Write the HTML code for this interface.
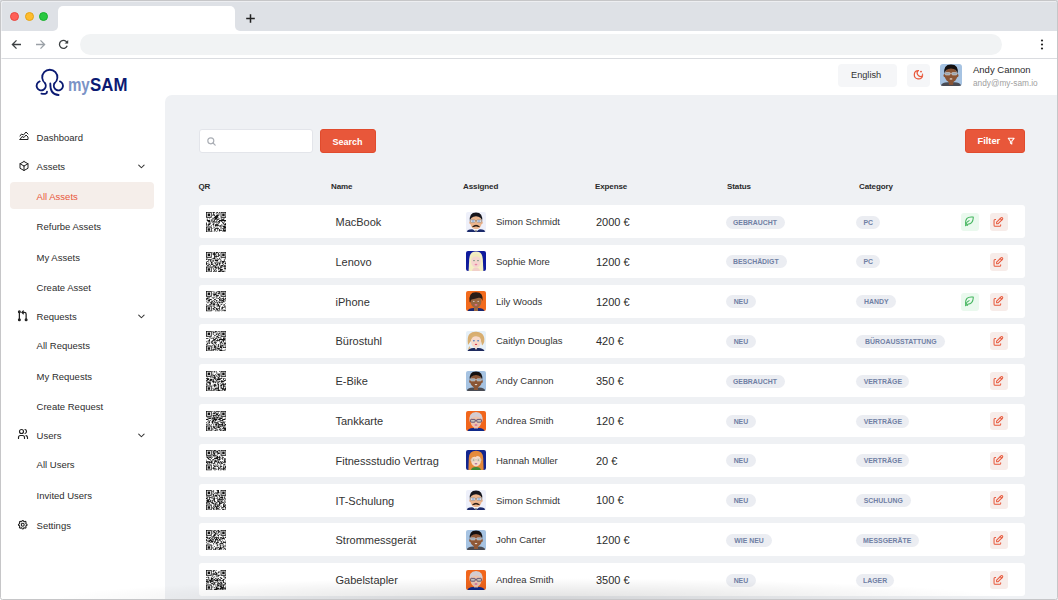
<!DOCTYPE html>
<html><head><meta charset="utf-8">
<style>
*{box-sizing:border-box}
html,body{margin:0;padding:0}
body{width:1058px;height:600px;overflow:hidden;position:relative;background:#fff;font-family:"Liberation Sans",sans-serif;color:#2b2b2b}
.a{position:absolute}
.win{position:absolute;left:0;top:0;width:1058px;height:600px;overflow:hidden;background:#fff}
.frame{position:absolute;left:0;top:0;width:1058px;height:600px;border:1px solid #c6c6c8;border-radius:2.5px;z-index:50;box-shadow:inset 1px 1px 0 rgba(255,255,255,.45)}
.tabbar{position:absolute;left:0;top:0;width:1058px;height:31px;background:#dee1e6}
.tl{position:absolute;top:11.7px;width:9px;height:9px;border-radius:50%}
.tab{position:absolute;left:58px;top:6px;width:177px;height:26px;background:#fff;border-radius:5px 5px 0 0}
.addr{position:absolute;left:80px;top:34px;width:922px;height:21px;background:#f1f3f4;border-radius:11px}
.sep{position:absolute;left:0;top:58px;width:1058px;height:1px;background:#dadce0}
.main{position:absolute;left:165px;top:95px;width:900px;height:520px;background:#eff1f4;border-radius:7px 0 0 0}
.nav{position:absolute;left:36.6px;font-size:9.5px;color:#2d2d2d;line-height:12px;white-space:nowrap}
.ico{position:absolute;left:18px;line-height:0}
.hdr{position:absolute;top:181.5px;font-size:8px;font-weight:bold;color:#2a2a2a;line-height:10px;letter-spacing:-.1px}
.row{position:absolute;left:199px;width:826px;height:33.1px;background:#fff;border-radius:3px}
.qr{position:absolute;left:6.6px;top:6.6px;width:20.3px;height:20.3px}
.nm{position:absolute;left:136.5px;top:10px;font-size:11px;color:#333;line-height:14px;white-space:nowrap}
.av{position:absolute;left:267px;top:6.5px;width:20px;height:20px;border-radius:2px;overflow:hidden}
.as{position:absolute;left:297px;top:11px;font-size:9.5px;color:#333;line-height:12px;white-space:nowrap}
.ex{position:absolute;left:397px;top:9.8px;font-size:11px;color:#2c2c2c;line-height:14px;white-space:nowrap}
.bd{position:absolute;top:10.5px;height:13px;border-radius:7px;background:#ebedf2;color:#7080a4;font-size:7.5px;font-weight:bold;line-height:13.8px;white-space:nowrap;text-align:center}
.bd span{display:inline-block;transform:scaleX(.92)}
.btn{position:absolute;top:7.8px;width:18px;height:18px;border-radius:3px;line-height:0}
</style></head><body>
<div class="win">
  <div class="tabbar"></div>
  <div class="tl" style="left:9.9px;background:#ff5f57;border:.6px solid #e8473f"></div>
  <div class="tl" style="left:24.65px;background:#febc2e;border:.6px solid #e5a317"></div>
  <div class="tl" style="left:39.2px;background:#28c840;border:.6px solid #17b02c"></div>
  <div class="tab"></div>
  <div class="a" style="left:53px;top:26px;width:5px;height:5px;background:#fff"></div>
  <div class="a" style="left:48px;top:21px;width:10px;height:10px;background:#dee1e6;border-radius:0 0 5px 0"></div>
  <div class="a" style="left:235px;top:26px;width:5px;height:5px;background:#fff"></div>
  <div class="a" style="left:235px;top:21px;width:10px;height:10px;background:#dee1e6;border-radius:0 0 0 5px"></div>
  <svg class="a" style="left:245px;top:13px" width="11" height="11" viewBox="0 0 11 11"><path d="M5.5 1.2V9.8M1.2 5.5H9.8" stroke="#222" stroke-width="1.5"/></svg>
  <svg class="a" style="left:11px;top:39px" width="11" height="11" viewBox="0 0 11 11"><path d="M10 5.5H1.5M5.5 1.4L1.4 5.5L5.5 9.6" fill="none" stroke="#3c4043" stroke-width="1.3"/></svg>
  <svg class="a" style="left:35px;top:39px" width="11" height="11" viewBox="0 0 11 11"><path d="M1 5.5H9.5M5.5 1.4L9.6 5.5L5.5 9.6" fill="none" stroke="#9aa0a6" stroke-width="1.3"/></svg>
  <svg class="a" style="left:58px;top:39px" width="11" height="11" viewBox="0 0 11 11"><path d="M9.3 4.3A4 4 0 1 0 9.2 6.8" fill="none" stroke="#3c4043" stroke-width="1.3"/><path d="M6.6 4.6H10.2V1Z" fill="#3c4043"/></svg>
  <div class="addr"></div>
  <svg class="a" style="left:1038.6px;top:38px" width="6" height="13" viewBox="0 0 6 13"><circle cx="3" cy="2.5" r="1.1" fill="#222"/><circle cx="3" cy="6.5" r="1.1" fill="#222"/><circle cx="3" cy="10.5" r="1.1" fill="#222"/></svg>
  <div class="sep"></div>
  <svg class="a" style="left:30px;top:64px" width="40" height="36" viewBox="0 0 40 36"><g fill="none" stroke="#0b1a72" stroke-width="1.8" stroke-linecap="round">
<path d="M15.2 19.4A7.6 7.6 0 1 1 24.4 19.4"/>
<path d="M15.2 19.4A4.6 4.6 0 1 1 9.7 17.4"/>
<path d="M24.4 19.4A4.6 4.6 0 1 0 29.9 17.4"/>
<path d="M20.3 19.4Q20 30.6 28.6 31"/>
<path d="M17 27.6Q17.2 30.8 11.4 29.6"/>
</g></svg>
  <div class="a" style="left:68px;top:74.5px;font-size:18px;color:#7b93c6;line-height:20px;font-weight:bold;letter-spacing:-.2px;transform:scaleX(.84);transform-origin:0 0">my</div>
  <div class="a" style="left:89.5px;top:74.5px;font-size:18px;color:#0b1a72;line-height:20px;font-weight:bold;transform:scaleX(.935);transform-origin:0 0">SAM</div>
  <div class="a" style="left:837.5px;top:63.5px;width:59px;height:23px;background:#f5f6f8;border-radius:4px"></div>
  <div class="a" style="left:851px;top:69.2px;font-size:9.2px;color:#333;line-height:12px">English</div>
  <div class="a" style="left:907px;top:63.5px;width:23px;height:23px;background:#f5f6f8;border-radius:4px"></div>
  <svg class="a" style="left:912px;top:68.3px" width="13" height="13" viewBox="0 0 13 13"><path d="M6.5 2.5A4.2 4.2 0 1 0 10.6 7.6A3.2 3.2 0 0 1 6.5 2.5Z" fill="none" stroke="#e8573a" stroke-width="1.2" stroke-linejoin="round"/><circle cx="9" cy="3.6" r=".95" fill="#e8573a"/><circle cx="10.5" cy="6.2" r=".7" fill="#e8573a"/></svg>
  <svg class="a" style="left:940px;top:64px;border-radius:3px;overflow:hidden" width="22" height="22" viewBox="0 0 20 20"><rect width="20" height="20" fill="#a6c3e2"/><path d="M0.5 20 Q1.5 16.8 7 16.6 L13 16.6 Q18.5 16.8 19.5 20Z" fill="#4a4c54"/><rect x="8" y="14" width="4" height="5" fill="#8a5535"/><ellipse cx="10" cy="10" rx="5.8" ry="6.8" fill="#8a5535"/><ellipse cx="4.2" cy="10.4" rx="1" ry="1.6" fill="#8a5535"/><ellipse cx="15.8" cy="10.4" rx="1" ry="1.6" fill="#8a5535"/><path d="M3.9 9.4 Q2.6 0.4 10 0.4 Q17.4 0.4 16.1 9.4 Q15.6 4.4 10 4.1 Q4.4 4.4 3.9 9.4Z" fill="#141010"/><rect x="4.6" y="7.7" width="4.6" height="2.3" rx=".9" fill="#9aa6b0" stroke="#d9dde3" stroke-width=".5"/><rect x="10.8" y="7.7" width="4.6" height="2.3" rx=".9" fill="#9aa6b0" stroke="#d9dde3" stroke-width=".5"/><path d="M9.2 8.5H10.8" stroke="#d9dde3" stroke-width=".5"/><ellipse cx="10" cy="13.6" rx="1.3" ry=".6" fill="#e8e2dc"/></svg>
  <div class="a" style="left:973px;top:63.7px;font-size:9.5px;color:#2b2b2b;line-height:12px">Andy Cannon</div>
  <div class="a" style="left:973px;top:78px;font-size:8.3px;color:#a0a0a0;line-height:11px">andy@my-sam.io</div>
  <div class="nav" style="top:131.5px;color:#2d2d2d">Dashboard</div><div class="ico" style="left:17.6px;top:129.8px"><svg width="12" height="12" viewBox="0 0 24 24"><g fill="none" stroke="#222" stroke-width="2" stroke-linecap="round" stroke-linejoin="round"><path d="M4 19l4 -6l4 2l4 -5l4 4l0 5l-16 0"/><path d="M4 12l3 -4l4 2l5 -6l4 4"/></g></svg></div><div class="nav" style="top:160.5px;color:#2d2d2d">Assets</div><div class="ico" style="left:17.6px;top:160px"><svg width="12" height="12" viewBox="0 0 24 24"><g fill="none" stroke="#222" stroke-width="2" stroke-linecap="round" stroke-linejoin="round"><path d="M12 3l8 4.5l0 9l-8 4.5l-8 -4.5l0 -9l8 -4.5"/><path d="M12 12l8 -4.5"/><path d="M12 12l0 9"/><path d="M12 12l-8 -4.5"/></g></svg></div><div class="a" style="left:135.9px;top:160.5px;line-height:0"><svg width="10.8" height="10.8" viewBox="0 0 24 24"><path d="M6 9l6 6l6 -6" fill="none" stroke="#333" stroke-width="2.3" stroke-linecap="round" stroke-linejoin="round"/></svg></div><div class="a" style="left:10px;top:182px;width:144px;height:26.5px;background:#f5eeea;border-radius:4px"></div><div class="nav" style="top:190.5px;color:#e8573a">All Assets</div><div class="nav" style="top:220.5px;color:#2d2d2d">Refurbe Assets</div><div class="nav" style="top:251.5px;color:#2d2d2d">My Assets</div><div class="nav" style="top:281.5px;color:#2d2d2d">Create Asset</div><div class="nav" style="top:310.5px;color:#2d2d2d">Requests</div><div class="ico" style="left:16.4px;top:309.2px"><svg width="13.5" height="13.5" viewBox="0 0 24 24"><g fill="none" stroke="#222" stroke-width="2.2" stroke-linecap="round" stroke-linejoin="round"><path d="M6 5v14"/><circle cx="6" cy="5" r="1.6"/><circle cx="6" cy="19" r="1.6"/><path d="M11 6h4a3 3 0 0 1 3 3v10"/><path d="M13 3.5l-2.5 2.5l2.5 2.5"/><circle cx="18" cy="19" r="1.6"/></g></svg></div><div class="a" style="left:135.9px;top:310.5px;line-height:0"><svg width="10.8" height="10.8" viewBox="0 0 24 24"><path d="M6 9l6 6l6 -6" fill="none" stroke="#333" stroke-width="2.3" stroke-linecap="round" stroke-linejoin="round"/></svg></div><div class="nav" style="top:339.5px;color:#2d2d2d">All Requests</div><div class="nav" style="top:370.5px;color:#2d2d2d">My Requests</div><div class="nav" style="top:400.5px;color:#2d2d2d">Create Request</div><div class="nav" style="top:429.5px;color:#2d2d2d">Users</div><div class="ico" style="left:16.5px;top:428.3px"><svg width="12" height="12" viewBox="0 0 24 24"><g fill="none" stroke="#222" stroke-width="2.3" stroke-linecap="round" stroke-linejoin="round"><circle cx="9" cy="7" r="4"/><path d="M3 21v-2a4 4 0 0 1 4 -4h4a4 4 0 0 1 4 4v2"/><path d="M16 3.13a4 4 0 0 1 0 7.75"/><path d="M21 21v-2a4 4 0 0 0 -3 -3.85"/></g></svg></div><div class="a" style="left:135.9px;top:429.5px;line-height:0"><svg width="10.8" height="10.8" viewBox="0 0 24 24"><path d="M6 9l6 6l6 -6" fill="none" stroke="#333" stroke-width="2.3" stroke-linecap="round" stroke-linejoin="round"/></svg></div><div class="nav" style="top:458.5px;color:#2d2d2d">All Users</div><div class="nav" style="top:489.5px;color:#2d2d2d">Invited Users</div><div class="nav" style="top:519.5px;color:#2d2d2d">Settings</div><div class="ico" style="left:16.8px;top:519px"><svg width="11.5" height="11.5" viewBox="0 0 24 24"><g fill="none" stroke="#222" stroke-width="2.3" stroke-linecap="round" stroke-linejoin="round"><path d="M10.325 4.317c.426 -1.756 2.924 -1.756 3.35 0a1.724 1.724 0 0 0 2.573 1.066c1.543 -.94 3.31 .826 2.37 2.37a1.724 1.724 0 0 0 1.065 2.572c1.756 .426 1.756 2.924 0 3.35a1.724 1.724 0 0 0 -1.066 2.573c.94 1.543 -.826 3.31 -2.37 2.37a1.724 1.724 0 0 0 -2.572 1.065c-.426 1.756 -2.924 1.756 -3.35 0a1.724 1.724 0 0 0 -2.573 -1.066c-1.543 .94 -3.31 -.826 -2.37 -2.37a1.724 1.724 0 0 0 -1.065 -2.572c-1.756 -.426 -1.756 -2.924 0 -3.35a1.724 1.724 0 0 0 1.066 -2.573c-.94 -1.543 .826 -3.31 2.37 -2.37c1 .608 2.296 .07 2.572 -1.065z"/><circle cx="12" cy="12" r="3"/></g></svg></div>
  <div class="main"></div>
  <div class="a" style="left:199px;top:129.1px;width:114px;height:24.1px;background:#fff;border:1px solid #e3e5ea;border-radius:3px"></div>
  <svg class="a" style="left:205.5px;top:135.5px" width="11" height="11" viewBox="0 0 11 11"><circle cx="4.8" cy="4.8" r="3" fill="none" stroke="#a9adb4" stroke-width="1.15"/><path d="M7 7L9.2 9.2" stroke="#a9adb4" stroke-width="1.15" stroke-linecap="round"/></svg>
  <div class="a" style="left:319.5px;top:129.3px;width:56px;height:23.7px;background:#e8573a;border:.7px solid #e14b2d;border-radius:3px"></div>
  <div class="a" style="left:332.5px;top:135.5px;font-size:9px;font-weight:bold;color:#fff;line-height:12px">Search</div>
  <div class="a" style="left:964.8px;top:129.4px;width:59.8px;height:23.5px;background:#e8573a;border:.7px solid #e14b2d;border-radius:3px"></div>
  <div class="a" style="left:977.5px;top:135px;font-size:9.3px;font-weight:bold;color:#fff;line-height:12px">Filter</div>
  <svg class="a" style="left:1006px;top:136px" width="10" height="10" viewBox="0 0 10 10"><path d="M2.2 2.3H8.1L5.8 5.2V8L4.4 7V5.2Z" fill="none" stroke="#fff" stroke-width="1.05" stroke-linejoin="round"/></svg>
  <div class="hdr" style="left:198.5px">QR</div>
  <div class="hdr" style="left:331px">Name</div>
  <div class="hdr" style="left:463px">Assigned</div>
  <div class="hdr" style="left:595px">Expense</div>
  <div class="hdr" style="left:727px">Status</div>
  <div class="hdr" style="left:859px">Category</div>
  <div class="row" style="top:205.20px"><svg class="qr" viewBox="0 0 25 25" preserveAspectRatio="none"><path d="M0 0h7v1h-7zM8 0h3v1h-3zM13 0h2v1h-2zM16 0h1v1h-1zM18 0h7v1h-7zM0 1h1v1h-1zM6 1h1v1h-1zM9 1h1v1h-1zM12 1h2v1h-2zM16 1h1v1h-1zM18 1h1v1h-1zM24 1h1v1h-1zM0 2h1v1h-1zM2 2h3v1h-3zM6 2h1v1h-1zM9 2h1v1h-1zM15 2h1v1h-1zM18 2h1v1h-1zM20 2h3v1h-3zM24 2h1v1h-1zM0 3h1v1h-1zM2 3h3v1h-3zM6 3h1v1h-1zM8 3h3v1h-3zM13 3h2v1h-2zM16 3h1v1h-1zM18 3h1v1h-1zM20 3h3v1h-3zM24 3h1v1h-1zM0 4h1v1h-1zM2 4h3v1h-3zM6 4h1v1h-1zM8 4h1v1h-1zM10 4h1v1h-1zM12 4h4v1h-4zM18 4h1v1h-1zM20 4h3v1h-3zM24 4h1v1h-1zM0 5h1v1h-1zM6 5h1v1h-1zM11 5h4v1h-4zM18 5h1v1h-1zM24 5h1v1h-1zM0 6h7v1h-7zM10 6h5v1h-5zM18 6h7v1h-7zM8 7h6v1h-6zM15 7h1v1h-1zM1 8h1v1h-1zM4 8h1v1h-1zM8 8h1v1h-1zM11 8h3v1h-3zM16 8h1v1h-1zM18 8h2v1h-2zM21 8h2v1h-2zM1 9h1v1h-1zM6 9h1v1h-1zM8 9h1v1h-1zM10 9h2v1h-2zM13 9h3v1h-3zM19 9h3v1h-3zM1 10h4v1h-4zM6 10h1v1h-1zM8 10h1v1h-1zM10 10h1v1h-1zM13 10h1v1h-1zM16 10h9v1h-9zM2 11h3v1h-3zM6 11h1v1h-1zM8 11h3v1h-3zM12 11h1v1h-1zM15 11h2v1h-2zM18 11h2v1h-2zM22 11h1v1h-1zM24 11h1v1h-1zM3 12h3v1h-3zM8 12h1v1h-1zM11 12h6v1h-6zM20 12h1v1h-1zM22 12h1v1h-1zM0 13h1v1h-1zM7 13h1v1h-1zM9 13h2v1h-2zM16 13h1v1h-1zM20 13h2v1h-2zM0 14h1v1h-1zM3 14h3v1h-3zM9 14h1v1h-1zM13 14h1v1h-1zM15 14h1v1h-1zM21 14h1v1h-1zM23 14h2v1h-2zM0 15h1v1h-1zM2 15h3v1h-3zM8 15h2v1h-2zM11 15h4v1h-4zM19 15h1v1h-1zM22 15h3v1h-3zM0 16h1v1h-1zM2 16h2v1h-2zM6 16h1v1h-1zM9 16h1v1h-1zM11 16h5v1h-5zM17 16h1v1h-1zM19 16h1v1h-1zM23 16h1v1h-1zM11 17h2v1h-2zM14 17h1v1h-1zM16 17h3v1h-3zM20 17h4v1h-4zM0 18h7v1h-7zM9 18h1v1h-1zM18 18h1v1h-1zM21 18h4v1h-4zM0 19h1v1h-1zM6 19h1v1h-1zM10 19h1v1h-1zM12 19h1v1h-1zM14 19h1v1h-1zM18 19h1v1h-1zM22 19h3v1h-3zM0 20h1v1h-1zM2 20h3v1h-3zM6 20h1v1h-1zM8 20h1v1h-1zM11 20h5v1h-5zM18 20h1v1h-1zM20 20h3v1h-3zM24 20h1v1h-1zM0 21h1v1h-1zM2 21h3v1h-3zM6 21h1v1h-1zM10 21h2v1h-2zM14 21h1v1h-1zM16 21h1v1h-1zM21 21h1v1h-1zM23 21h1v1h-1zM0 22h1v1h-1zM2 22h3v1h-3zM6 22h1v1h-1zM10 22h2v1h-2zM14 22h1v1h-1zM16 22h4v1h-4zM21 22h4v1h-4zM0 23h1v1h-1zM6 23h1v1h-1zM8 23h1v1h-1zM16 23h1v1h-1zM20 23h4v1h-4zM0 24h7v1h-7zM10 24h1v1h-1zM12 24h2v1h-2zM23 24h1v1h-1z" fill="#111"/></svg><div class="nm">MacBook</div><svg class="av" viewBox="0 0 20 20"><rect width="20" height="20" fill="#eef0fa"/><path d="M0.5 20 Q1 17.6 6 17.3 L10 18.5 L14 17.3 Q19 17.6 19.5 20Z" fill="#1b2a6b"/><path d="M7 17.3 L10 20 L13 17.3Z" fill="#fff"/><path d="M9.4 18.2H10.6L10.3 20H9.7Z" fill="#111"/><ellipse cx="10" cy="10.2" rx="5.8" ry="7" fill="#ebb48c"/><ellipse cx="4.3" cy="10.5" rx="1" ry="1.6" fill="#e3a97f"/><ellipse cx="15.7" cy="10.5" rx="1" ry="1.6" fill="#e3a97f"/><path d="M3.9 9.6 Q2.8 0.6 10 0.6 Q17.2 0.6 16.1 9.6 Q15.6 4.6 10 4.3 Q4.4 4.6 3.9 9.6Z" fill="#15151c"/><rect x="4.6" y="7.8" width="4.6" height="2.6" rx=".9" fill="#dfe9f5" stroke="#8a7a70" stroke-width=".55"/><rect x="10.8" y="7.8" width="4.6" height="2.6" rx=".9" fill="#dfe9f5" stroke="#8a7a70" stroke-width=".55"/><path d="M9.2 8.6H10.8" stroke="#8a7a70" stroke-width=".55"/><circle cx="7" cy="9.1" r=".75" fill="#5a86c8"/><circle cx="13" cy="9.1" r=".75" fill="#5a86c8"/><path d="M6.6 14.6 Q10 11.8 13.4 14.6 Q10 13.4 6.6 14.6Z" fill="#231710" stroke="#231710" stroke-width=".8"/></svg><div class="as">Simon Schmidt</div><div class="ex">2000 €</div><div class="bd" style="left:526.8px;width:59.2px"><span>GEBRAUCHT</span></div><div class="bd" style="left:656.8px;width:24.3px"><span>PC</span></div><div class="btn" style="left:762.3px;background:#eaf9ee"><svg style="position:absolute;left:2.05px;top:2.1px" viewBox="0 0 24 24" width="12.3" height="12.3"><g fill="none" stroke="#3fb35a" stroke-width="2" stroke-linecap="round" stroke-linejoin="round"><path d="M5 21c.5 -4.5 2.5 -8 7 -10"/><path d="M9 18c6.218 0 10.5 -3.288 11 -12v-2h-4.014c-7.5 0 -10.986 5 -10.986 11c0 1 0 3 2 5h2z"/></g></svg></div><div class="btn" style="left:790.9px;background:#f7ece9"><svg style="position:absolute;left:2.05px;top:2.9px" viewBox="0 0 24 24" width="12.3" height="12.3"><g fill="none" stroke="#e8573a" stroke-width="2" stroke-linecap="round" stroke-linejoin="round"><path d="M7 7h-1a2 2 0 0 0 -2 2v9a2 2 0 0 0 2 2h9a2 2 0 0 0 2 -2v-1"/><path d="M20.385 6.585a2.1 2.1 0 0 0 -2.97 -2.97l-8.415 8.385v3h3l8.385 -8.415z"/><path d="M16 5l3 3"/></g></svg></div></div><div class="row" style="top:244.96px"><svg class="qr" viewBox="0 0 25 25" preserveAspectRatio="none"><path d="M0 0h7v1h-7zM8 0h1v1h-1zM10 0h1v1h-1zM12 0h3v1h-3zM16 0h1v1h-1zM18 0h7v1h-7zM0 1h1v1h-1zM6 1h1v1h-1zM9 1h2v1h-2zM12 1h2v1h-2zM15 1h1v1h-1zM18 1h1v1h-1zM24 1h1v1h-1zM0 2h1v1h-1zM2 2h3v1h-3zM6 2h1v1h-1zM8 2h4v1h-4zM15 2h1v1h-1zM18 2h1v1h-1zM20 2h3v1h-3zM24 2h1v1h-1zM0 3h1v1h-1zM2 3h3v1h-3zM6 3h1v1h-1zM9 3h3v1h-3zM13 3h1v1h-1zM15 3h2v1h-2zM18 3h1v1h-1zM20 3h3v1h-3zM24 3h1v1h-1zM0 4h1v1h-1zM2 4h3v1h-3zM6 4h1v1h-1zM10 4h1v1h-1zM12 4h1v1h-1zM15 4h2v1h-2zM18 4h1v1h-1zM20 4h3v1h-3zM24 4h1v1h-1zM0 5h1v1h-1zM6 5h1v1h-1zM10 5h6v1h-6zM18 5h1v1h-1zM24 5h1v1h-1zM0 6h7v1h-7zM10 6h1v1h-1zM12 6h1v1h-1zM18 6h7v1h-7zM9 7h3v1h-3zM16 7h1v1h-1zM0 8h2v1h-2zM7 8h4v1h-4zM13 8h2v1h-2zM16 8h1v1h-1zM18 8h1v1h-1zM23 8h2v1h-2zM0 9h1v1h-1zM2 9h5v1h-5zM11 9h1v1h-1zM13 9h1v1h-1zM15 9h1v1h-1zM17 9h1v1h-1zM22 9h1v1h-1zM3 10h1v1h-1zM5 10h1v1h-1zM7 10h1v1h-1zM9 10h1v1h-1zM11 10h4v1h-4zM18 10h1v1h-1zM22 10h1v1h-1zM1 11h2v1h-2zM5 11h1v1h-1zM7 11h1v1h-1zM9 11h1v1h-1zM12 11h1v1h-1zM14 11h1v1h-1zM17 11h1v1h-1zM19 11h5v1h-5zM0 12h1v1h-1zM3 12h1v1h-1zM6 12h2v1h-2zM17 12h1v1h-1zM20 12h2v1h-2zM0 13h1v1h-1zM6 13h2v1h-2zM10 13h7v1h-7zM18 13h1v1h-1zM20 13h2v1h-2zM23 13h2v1h-2zM0 14h2v1h-2zM3 14h1v1h-1zM6 14h1v1h-1zM8 14h1v1h-1zM11 14h1v1h-1zM14 14h1v1h-1zM16 14h2v1h-2zM20 14h1v1h-1zM23 14h2v1h-2zM0 15h1v1h-1zM3 15h2v1h-2zM6 15h3v1h-3zM12 15h3v1h-3zM16 15h1v1h-1zM21 15h1v1h-1zM1 16h3v1h-3zM5 16h1v1h-1zM9 16h2v1h-2zM12 16h2v1h-2zM16 16h1v1h-1zM18 16h3v1h-3zM22 16h1v1h-1zM24 16h1v1h-1zM8 17h2v1h-2zM11 17h1v1h-1zM14 17h1v1h-1zM18 17h1v1h-1zM20 17h5v1h-5zM0 18h7v1h-7zM8 18h1v1h-1zM10 18h3v1h-3zM15 18h1v1h-1zM17 18h3v1h-3zM22 18h1v1h-1zM24 18h1v1h-1zM0 19h1v1h-1zM6 19h1v1h-1zM8 19h1v1h-1zM11 19h5v1h-5zM17 19h1v1h-1zM19 19h1v1h-1zM23 19h1v1h-1zM0 20h1v1h-1zM2 20h3v1h-3zM6 20h1v1h-1zM9 20h1v1h-1zM12 20h1v1h-1zM15 20h3v1h-3zM22 20h3v1h-3zM0 21h1v1h-1zM2 21h3v1h-3zM6 21h1v1h-1zM9 21h1v1h-1zM11 21h1v1h-1zM15 21h1v1h-1zM17 21h4v1h-4zM23 21h1v1h-1zM0 22h1v1h-1zM2 22h3v1h-3zM6 22h1v1h-1zM10 22h1v1h-1zM12 22h1v1h-1zM17 22h3v1h-3zM0 23h1v1h-1zM6 23h1v1h-1zM9 23h2v1h-2zM12 23h1v1h-1zM15 23h3v1h-3zM20 23h4v1h-4zM0 24h7v1h-7zM9 24h1v1h-1zM11 24h2v1h-2zM15 24h7v1h-7z" fill="#111"/></svg><div class="nm">Lenovo</div><svg class="av" viewBox="0 0 20 20"><rect width="20" height="20" fill="#0f1b9c"/><path d="M2.6 20 L3.2 8 Q3.6 0.6 10 0.6 Q16.4 0.6 16.8 8 L17.4 20Z" fill="#f4efc4"/><path d="M6 20 Q6.5 16.5 10 16.5 Q13.5 16.5 14 20Z" fill="#f1cfc8"/><ellipse cx="10" cy="10.2" rx="4.9" ry="6.3" fill="#f5d6cf"/><path d="M5 8 Q5.2 2.6 10 2.8 Q14.8 2.6 15 8 Q13 5 10 5.6 Q7 5 5 8Z" fill="#f2ebbd"/><ellipse cx="8" cy="9.6" rx=".9" ry=".6" fill="#6f8f78"/><ellipse cx="12" cy="9.6" rx=".9" ry=".6" fill="#6f8f78"/><ellipse cx="10" cy="13.6" rx="1.4" ry=".8" fill="#ea86a6"/></svg><div class="as">Sophie More</div><div class="ex">1200 €</div><div class="bd" style="left:526.8px;width:60.8px"><span>BESCHÄDIGT</span></div><div class="bd" style="left:656.8px;width:24.3px"><span>PC</span></div><div class="btn" style="left:790.9px;background:#f7ece9"><svg style="position:absolute;left:2.05px;top:2.9px" viewBox="0 0 24 24" width="12.3" height="12.3"><g fill="none" stroke="#e8573a" stroke-width="2" stroke-linecap="round" stroke-linejoin="round"><path d="M7 7h-1a2 2 0 0 0 -2 2v9a2 2 0 0 0 2 2h9a2 2 0 0 0 2 -2v-1"/><path d="M20.385 6.585a2.1 2.1 0 0 0 -2.97 -2.97l-8.415 8.385v3h3l8.385 -8.415z"/><path d="M16 5l3 3"/></g></svg></div></div><div class="row" style="top:284.72px"><svg class="qr" viewBox="0 0 25 25" preserveAspectRatio="none"><path d="M0 0h7v1h-7zM8 0h1v1h-1zM14 0h3v1h-3zM18 0h7v1h-7zM0 1h1v1h-1zM6 1h1v1h-1zM9 1h2v1h-2zM12 1h2v1h-2zM16 1h1v1h-1zM18 1h1v1h-1zM24 1h1v1h-1zM0 2h1v1h-1zM2 2h3v1h-3zM6 2h1v1h-1zM12 2h1v1h-1zM15 2h2v1h-2zM18 2h1v1h-1zM20 2h3v1h-3zM24 2h1v1h-1zM0 3h1v1h-1zM2 3h3v1h-3zM6 3h1v1h-1zM8 3h5v1h-5zM14 3h3v1h-3zM18 3h1v1h-1zM20 3h3v1h-3zM24 3h1v1h-1zM0 4h1v1h-1zM2 4h3v1h-3zM6 4h1v1h-1zM9 4h4v1h-4zM18 4h1v1h-1zM20 4h3v1h-3zM24 4h1v1h-1zM0 5h1v1h-1zM6 5h1v1h-1zM9 5h2v1h-2zM12 5h4v1h-4zM18 5h1v1h-1zM24 5h1v1h-1zM0 6h7v1h-7zM12 6h1v1h-1zM14 6h1v1h-1zM18 6h7v1h-7zM9 7h2v1h-2zM12 7h2v1h-2zM16 7h1v1h-1zM1 8h4v1h-4zM7 8h2v1h-2zM16 8h2v1h-2zM21 8h1v1h-1zM24 8h1v1h-1zM0 9h3v1h-3zM9 9h1v1h-1zM12 9h1v1h-1zM14 9h2v1h-2zM17 9h1v1h-1zM19 9h3v1h-3zM23 9h2v1h-2zM0 10h1v1h-1zM2 10h1v1h-1zM4 10h3v1h-3zM10 10h2v1h-2zM16 10h2v1h-2zM19 10h1v1h-1zM21 10h2v1h-2zM24 10h1v1h-1zM2 11h3v1h-3zM9 11h1v1h-1zM12 11h2v1h-2zM16 11h6v1h-6zM23 11h1v1h-1zM0 12h1v1h-1zM3 12h2v1h-2zM6 12h3v1h-3zM10 12h1v1h-1zM13 12h1v1h-1zM20 12h2v1h-2zM23 12h1v1h-1zM2 13h1v1h-1zM7 13h1v1h-1zM10 13h1v1h-1zM12 13h1v1h-1zM15 13h2v1h-2zM18 13h2v1h-2zM21 13h2v1h-2zM1 14h1v1h-1zM3 14h1v1h-1zM5 14h3v1h-3zM9 14h1v1h-1zM11 14h1v1h-1zM13 14h2v1h-2zM16 14h2v1h-2zM19 14h2v1h-2zM6 15h2v1h-2zM9 15h2v1h-2zM14 15h1v1h-1zM24 15h1v1h-1zM0 16h1v1h-1zM4 16h3v1h-3zM8 16h3v1h-3zM12 16h1v1h-1zM14 16h2v1h-2zM18 16h2v1h-2zM22 16h1v1h-1zM9 17h2v1h-2zM12 17h1v1h-1zM14 17h2v1h-2zM21 17h2v1h-2zM0 18h7v1h-7zM8 18h1v1h-1zM14 18h4v1h-4zM23 18h1v1h-1zM0 19h1v1h-1zM6 19h1v1h-1zM9 19h2v1h-2zM13 19h1v1h-1zM16 19h1v1h-1zM20 19h1v1h-1zM22 19h2v1h-2zM0 20h1v1h-1zM2 20h3v1h-3zM6 20h1v1h-1zM10 20h2v1h-2zM16 20h1v1h-1zM19 20h3v1h-3zM23 20h1v1h-1zM0 21h1v1h-1zM2 21h3v1h-3zM6 21h1v1h-1zM8 21h2v1h-2zM12 21h2v1h-2zM15 21h2v1h-2zM19 21h2v1h-2zM24 21h1v1h-1zM0 22h1v1h-1zM2 22h3v1h-3zM6 22h1v1h-1zM9 22h2v1h-2zM12 22h3v1h-3zM16 22h1v1h-1zM19 22h1v1h-1zM0 23h1v1h-1zM6 23h1v1h-1zM8 23h1v1h-1zM14 23h1v1h-1zM17 23h1v1h-1zM20 23h5v1h-5zM0 24h7v1h-7zM11 24h2v1h-2zM14 24h3v1h-3zM19 24h1v1h-1zM22 24h1v1h-1zM24 24h1v1h-1z" fill="#111"/></svg><div class="nm">iPhone</div><svg class="av" viewBox="0 0 20 20"><rect width="20" height="20" fill="#f26b1d"/><path d="M1.5 20 Q2.5 17 8 17 L12 17 Q17.5 17 18.5 20Z" fill="#1b2770"/><rect x="8" y="14.5" width="4" height="5.5" fill="#9a6640"/><ellipse cx="10" cy="10.4" rx="5.4" ry="6.4" fill="#9a6640"/><path d="M3.6 11 Q2.2 1 10 1.2 Q17.6 1 16.6 10 Q15.5 6 12.5 6.8 Q9 8 5.5 8.5 Q4.5 9 4.4 11.5Z" fill="#2a1d17"/><ellipse cx="7.8" cy="10.4" rx=".9" ry=".6" fill="#c9b7b0"/><ellipse cx="12.2" cy="10.4" rx=".9" ry=".6" fill="#c9b7b0"/><ellipse cx="10" cy="13.8" rx="1.5" ry=".9" fill="#e0708a"/></svg><div class="as">Lily Woods</div><div class="ex">1200 €</div><div class="bd" style="left:526.8px;width:30.2px"><span>NEU</span></div><div class="bd" style="left:656.8px;width:40.5px"><span>HANDY</span></div><div class="btn" style="left:762.3px;background:#eaf9ee"><svg style="position:absolute;left:2.05px;top:2.1px" viewBox="0 0 24 24" width="12.3" height="12.3"><g fill="none" stroke="#3fb35a" stroke-width="2" stroke-linecap="round" stroke-linejoin="round"><path d="M5 21c.5 -4.5 2.5 -8 7 -10"/><path d="M9 18c6.218 0 10.5 -3.288 11 -12v-2h-4.014c-7.5 0 -10.986 5 -10.986 11c0 1 0 3 2 5h2z"/></g></svg></div><div class="btn" style="left:790.9px;background:#f7ece9"><svg style="position:absolute;left:2.05px;top:2.9px" viewBox="0 0 24 24" width="12.3" height="12.3"><g fill="none" stroke="#e8573a" stroke-width="2" stroke-linecap="round" stroke-linejoin="round"><path d="M7 7h-1a2 2 0 0 0 -2 2v9a2 2 0 0 0 2 2h9a2 2 0 0 0 2 -2v-1"/><path d="M20.385 6.585a2.1 2.1 0 0 0 -2.97 -2.97l-8.415 8.385v3h3l8.385 -8.415z"/><path d="M16 5l3 3"/></g></svg></div></div><div class="row" style="top:324.48px"><svg class="qr" viewBox="0 0 25 25" preserveAspectRatio="none"><path d="M0 0h7v1h-7zM8 0h1v1h-1zM11 0h3v1h-3zM15 0h2v1h-2zM18 0h7v1h-7zM0 1h1v1h-1zM6 1h1v1h-1zM8 1h4v1h-4zM18 1h1v1h-1zM24 1h1v1h-1zM0 2h1v1h-1zM2 2h3v1h-3zM6 2h1v1h-1zM9 2h1v1h-1zM12 2h1v1h-1zM14 2h1v1h-1zM16 2h1v1h-1zM18 2h1v1h-1zM20 2h3v1h-3zM24 2h1v1h-1zM0 3h1v1h-1zM2 3h3v1h-3zM6 3h1v1h-1zM8 3h1v1h-1zM13 3h1v1h-1zM15 3h2v1h-2zM18 3h1v1h-1zM20 3h3v1h-3zM24 3h1v1h-1zM0 4h1v1h-1zM2 4h3v1h-3zM6 4h1v1h-1zM9 4h1v1h-1zM12 4h2v1h-2zM15 4h1v1h-1zM18 4h1v1h-1zM20 4h3v1h-3zM24 4h1v1h-1zM0 5h1v1h-1zM6 5h1v1h-1zM10 5h2v1h-2zM15 5h2v1h-2zM18 5h1v1h-1zM24 5h1v1h-1zM0 6h7v1h-7zM13 6h2v1h-2zM18 6h7v1h-7zM9 7h2v1h-2zM12 7h4v1h-4zM4 8h2v1h-2zM7 8h1v1h-1zM15 8h4v1h-4zM21 8h3v1h-3zM0 9h3v1h-3zM6 9h1v1h-1zM8 9h2v1h-2zM11 9h3v1h-3zM18 9h1v1h-1zM21 9h2v1h-2zM24 9h1v1h-1zM4 10h1v1h-1zM9 10h3v1h-3zM14 10h1v1h-1zM16 10h8v1h-8zM3 11h2v1h-2zM8 11h3v1h-3zM12 11h5v1h-5zM20 11h3v1h-3zM24 11h1v1h-1zM1 12h1v1h-1zM3 12h2v1h-2zM7 12h2v1h-2zM11 12h1v1h-1zM14 12h1v1h-1zM16 12h1v1h-1zM18 12h2v1h-2zM21 12h1v1h-1zM0 13h1v1h-1zM3 13h1v1h-1zM6 13h2v1h-2zM10 13h1v1h-1zM12 13h1v1h-1zM19 13h1v1h-1zM21 13h1v1h-1zM24 13h1v1h-1zM2 14h1v1h-1zM4 14h1v1h-1zM6 14h1v1h-1zM8 14h1v1h-1zM10 14h3v1h-3zM17 14h3v1h-3zM22 14h1v1h-1zM24 14h1v1h-1zM1 15h2v1h-2zM4 15h1v1h-1zM7 15h2v1h-2zM11 15h1v1h-1zM17 15h1v1h-1zM20 15h1v1h-1zM22 15h3v1h-3zM0 16h2v1h-2zM9 16h1v1h-1zM12 16h1v1h-1zM15 16h1v1h-1zM17 16h1v1h-1zM22 16h1v1h-1zM24 16h1v1h-1zM8 17h1v1h-1zM10 17h1v1h-1zM13 17h1v1h-1zM15 17h1v1h-1zM18 17h4v1h-4zM23 17h1v1h-1zM0 18h7v1h-7zM8 18h1v1h-1zM10 18h2v1h-2zM15 18h1v1h-1zM17 18h2v1h-2zM20 18h1v1h-1zM23 18h1v1h-1zM0 19h1v1h-1zM6 19h1v1h-1zM10 19h3v1h-3zM14 19h2v1h-2zM17 19h3v1h-3zM21 19h1v1h-1zM24 19h1v1h-1zM0 20h1v1h-1zM2 20h3v1h-3zM6 20h1v1h-1zM8 20h1v1h-1zM10 20h2v1h-2zM13 20h1v1h-1zM17 20h3v1h-3zM21 20h4v1h-4zM0 21h1v1h-1zM2 21h3v1h-3zM6 21h1v1h-1zM11 21h1v1h-1zM13 21h4v1h-4zM19 21h1v1h-1zM0 22h1v1h-1zM2 22h3v1h-3zM6 22h1v1h-1zM8 22h4v1h-4zM13 22h1v1h-1zM15 22h2v1h-2zM18 22h1v1h-1zM24 22h1v1h-1zM0 23h1v1h-1zM6 23h1v1h-1zM8 23h1v1h-1zM11 23h1v1h-1zM13 23h1v1h-1zM17 23h3v1h-3zM22 23h1v1h-1zM0 24h7v1h-7zM8 24h2v1h-2zM14 24h1v1h-1zM16 24h6v1h-6zM23 24h1v1h-1z" fill="#111"/></svg><div class="nm">Bürostuhl</div><svg class="av" viewBox="0 0 20 20"><rect width="20" height="20" fill="#e6f0f8"/><path d="M2 14 Q0.8 6 3.5 3 Q6.5 0.3 10.5 0.8 Q16.5 1 18 6 Q19.5 11 16 14.5 Q15 9 14 8 L6 8 Q5 10 2 14Z" fill="#d8ae70"/><path d="M1.5 20 Q2.5 17.3 7.5 17 L12.5 17 Q17.5 17.3 18.5 20Z" fill="#1e2a5e"/><path d="M8.8 17 L10 19 L11.2 17Z" fill="#f3dccd"/><path d="M1.6 20 Q2.2 17.5 5 17.2 Q3 16.5 3.4 14.8Z" fill="#d8ae70"/><ellipse cx="10" cy="10.4" rx="5" ry="6.4" fill="#f7dacb"/><path d="M4.6 9 Q4.6 2.6 10.5 2.8 Q15.6 3 15.4 8 Q13.5 5 10 5.2 Q6.5 5 4.6 9Z" fill="#d9b174"/><ellipse cx="7.9" cy="9.8" rx="1" ry=".8" fill="#5a7fc0"/><ellipse cx="12.1" cy="9.8" rx="1" ry=".8" fill="#5a7fc0"/><ellipse cx="10" cy="13.4" rx="1.2" ry=".6" fill="#d93c55"/></svg><div class="as">Caitlyn Douglas</div><div class="ex">420 €</div><div class="bd" style="left:526.8px;width:30.2px"><span>NEU</span></div><div class="bd" style="left:656.8px;width:89.5px"><span>BÜROAUSSTATTUNG</span></div><div class="btn" style="left:790.9px;background:#f7ece9"><svg style="position:absolute;left:2.05px;top:2.9px" viewBox="0 0 24 24" width="12.3" height="12.3"><g fill="none" stroke="#e8573a" stroke-width="2" stroke-linecap="round" stroke-linejoin="round"><path d="M7 7h-1a2 2 0 0 0 -2 2v9a2 2 0 0 0 2 2h9a2 2 0 0 0 2 -2v-1"/><path d="M20.385 6.585a2.1 2.1 0 0 0 -2.97 -2.97l-8.415 8.385v3h3l8.385 -8.415z"/><path d="M16 5l3 3"/></g></svg></div></div><div class="row" style="top:364.24px"><svg class="qr" viewBox="0 0 25 25" preserveAspectRatio="none"><path d="M0 0h7v1h-7zM8 0h1v1h-1zM10 0h1v1h-1zM12 0h1v1h-1zM16 0h1v1h-1zM18 0h7v1h-7zM0 1h1v1h-1zM6 1h1v1h-1zM8 1h1v1h-1zM10 1h1v1h-1zM12 1h1v1h-1zM18 1h1v1h-1zM24 1h1v1h-1zM0 2h1v1h-1zM2 2h3v1h-3zM6 2h1v1h-1zM13 2h1v1h-1zM18 2h1v1h-1zM20 2h3v1h-3zM24 2h1v1h-1zM0 3h1v1h-1zM2 3h3v1h-3zM6 3h1v1h-1zM8 3h1v1h-1zM13 3h1v1h-1zM15 3h2v1h-2zM18 3h1v1h-1zM20 3h3v1h-3zM24 3h1v1h-1zM0 4h1v1h-1zM2 4h3v1h-3zM6 4h1v1h-1zM8 4h1v1h-1zM11 4h1v1h-1zM14 4h3v1h-3zM18 4h1v1h-1zM20 4h3v1h-3zM24 4h1v1h-1zM0 5h1v1h-1zM6 5h1v1h-1zM8 5h3v1h-3zM12 5h1v1h-1zM15 5h2v1h-2zM18 5h1v1h-1zM24 5h1v1h-1zM0 6h7v1h-7zM8 6h1v1h-1zM10 6h1v1h-1zM12 6h1v1h-1zM14 6h1v1h-1zM16 6h1v1h-1zM18 6h7v1h-7zM8 7h1v1h-1zM10 7h2v1h-2zM15 7h2v1h-2zM1 8h1v1h-1zM5 8h2v1h-2zM8 8h4v1h-4zM14 8h2v1h-2zM19 8h1v1h-1zM0 9h4v1h-4zM10 9h2v1h-2zM13 9h1v1h-1zM15 9h5v1h-5zM21 9h2v1h-2zM24 9h1v1h-1zM1 10h3v1h-3zM5 10h3v1h-3zM9 10h1v1h-1zM11 10h1v1h-1zM13 10h5v1h-5zM21 10h1v1h-1zM24 10h1v1h-1zM0 11h2v1h-2zM4 11h4v1h-4zM9 11h1v1h-1zM12 11h2v1h-2zM19 11h1v1h-1zM22 11h3v1h-3zM1 12h2v1h-2zM5 12h1v1h-1zM8 12h2v1h-2zM14 12h3v1h-3zM18 12h5v1h-5zM0 13h1v1h-1zM3 13h2v1h-2zM7 13h7v1h-7zM16 13h1v1h-1zM18 13h4v1h-4zM1 14h5v1h-5zM9 14h1v1h-1zM11 14h1v1h-1zM14 14h2v1h-2zM19 14h1v1h-1zM0 15h1v1h-1zM4 15h2v1h-2zM14 15h1v1h-1zM17 15h1v1h-1zM20 15h2v1h-2zM23 15h2v1h-2zM0 16h2v1h-2zM4 16h2v1h-2zM10 16h2v1h-2zM14 16h2v1h-2zM19 16h6v1h-6zM8 17h5v1h-5zM15 17h1v1h-1zM17 17h3v1h-3zM21 17h1v1h-1zM0 18h7v1h-7zM10 18h2v1h-2zM13 18h1v1h-1zM15 18h1v1h-1zM18 18h2v1h-2zM21 18h3v1h-3zM0 19h1v1h-1zM6 19h1v1h-1zM8 19h1v1h-1zM10 19h1v1h-1zM15 19h1v1h-1zM17 19h1v1h-1zM21 19h1v1h-1zM23 19h1v1h-1zM0 20h1v1h-1zM2 20h3v1h-3zM6 20h1v1h-1zM12 20h1v1h-1zM14 20h2v1h-2zM18 20h2v1h-2zM21 20h1v1h-1zM24 20h1v1h-1zM0 21h1v1h-1zM2 21h3v1h-3zM6 21h1v1h-1zM8 21h1v1h-1zM11 21h5v1h-5zM18 21h4v1h-4zM23 21h2v1h-2zM0 22h1v1h-1zM2 22h3v1h-3zM6 22h1v1h-1zM9 22h3v1h-3zM13 22h1v1h-1zM15 22h1v1h-1zM20 22h5v1h-5zM0 23h1v1h-1zM6 23h1v1h-1zM8 23h1v1h-1zM12 23h1v1h-1zM14 23h4v1h-4zM19 23h2v1h-2zM22 23h1v1h-1zM24 23h1v1h-1zM0 24h7v1h-7zM8 24h3v1h-3zM12 24h1v1h-1zM14 24h3v1h-3zM18 24h1v1h-1zM22 24h2v1h-2z" fill="#111"/></svg><div class="nm">E-Bike</div><svg class="av" viewBox="0 0 20 20"><rect width="20" height="20" fill="#a6c3e2"/><path d="M0.5 20 Q1.5 16.8 7 16.6 L13 16.6 Q18.5 16.8 19.5 20Z" fill="#4a4c54"/><rect x="8" y="14" width="4" height="5" fill="#8a5535"/><ellipse cx="10" cy="10" rx="5.8" ry="6.8" fill="#8a5535"/><ellipse cx="4.2" cy="10.4" rx="1" ry="1.6" fill="#8a5535"/><ellipse cx="15.8" cy="10.4" rx="1" ry="1.6" fill="#8a5535"/><path d="M3.9 9.4 Q2.6 0.4 10 0.4 Q17.4 0.4 16.1 9.4 Q15.6 4.4 10 4.1 Q4.4 4.4 3.9 9.4Z" fill="#141010"/><rect x="4.6" y="7.7" width="4.6" height="2.3" rx=".9" fill="#9aa6b0" stroke="#d9dde3" stroke-width=".5"/><rect x="10.8" y="7.7" width="4.6" height="2.3" rx=".9" fill="#9aa6b0" stroke="#d9dde3" stroke-width=".5"/><path d="M9.2 8.5H10.8" stroke="#d9dde3" stroke-width=".5"/><ellipse cx="10" cy="13.6" rx="1.3" ry=".6" fill="#e8e2dc"/></svg><div class="as">Andy Cannon</div><div class="ex">350 €</div><div class="bd" style="left:526.8px;width:59.2px"><span>GEBRAUCHT</span></div><div class="bd" style="left:656.8px;width:53.2px"><span>VERTRÄGE</span></div><div class="btn" style="left:790.9px;background:#f7ece9"><svg style="position:absolute;left:2.05px;top:2.9px" viewBox="0 0 24 24" width="12.3" height="12.3"><g fill="none" stroke="#e8573a" stroke-width="2" stroke-linecap="round" stroke-linejoin="round"><path d="M7 7h-1a2 2 0 0 0 -2 2v9a2 2 0 0 0 2 2h9a2 2 0 0 0 2 -2v-1"/><path d="M20.385 6.585a2.1 2.1 0 0 0 -2.97 -2.97l-8.415 8.385v3h3l8.385 -8.415z"/><path d="M16 5l3 3"/></g></svg></div></div><div class="row" style="top:404.00px"><svg class="qr" viewBox="0 0 25 25" preserveAspectRatio="none"><path d="M0 0h7v1h-7zM8 0h1v1h-1zM10 0h1v1h-1zM12 0h5v1h-5zM18 0h7v1h-7zM0 1h1v1h-1zM6 1h1v1h-1zM11 1h1v1h-1zM18 1h1v1h-1zM24 1h1v1h-1zM0 2h1v1h-1zM2 2h3v1h-3zM6 2h1v1h-1zM9 2h3v1h-3zM13 2h1v1h-1zM15 2h1v1h-1zM18 2h1v1h-1zM20 2h3v1h-3zM24 2h1v1h-1zM0 3h1v1h-1zM2 3h3v1h-3zM6 3h1v1h-1zM8 3h3v1h-3zM12 3h3v1h-3zM18 3h1v1h-1zM20 3h3v1h-3zM24 3h1v1h-1zM0 4h1v1h-1zM2 4h3v1h-3zM6 4h1v1h-1zM12 4h3v1h-3zM16 4h1v1h-1zM18 4h1v1h-1zM20 4h3v1h-3zM24 4h1v1h-1zM0 5h1v1h-1zM6 5h1v1h-1zM8 5h5v1h-5zM14 5h3v1h-3zM18 5h1v1h-1zM24 5h1v1h-1zM0 6h7v1h-7zM9 6h1v1h-1zM12 6h1v1h-1zM15 6h1v1h-1zM18 6h7v1h-7zM8 7h4v1h-4zM13 7h2v1h-2zM16 7h1v1h-1zM1 8h6v1h-6zM8 8h1v1h-1zM10 8h1v1h-1zM12 8h4v1h-4zM17 8h4v1h-4zM24 8h1v1h-1zM3 9h3v1h-3zM7 9h5v1h-5zM13 9h1v1h-1zM16 9h4v1h-4zM23 9h1v1h-1zM0 10h3v1h-3zM7 10h1v1h-1zM9 10h5v1h-5zM15 10h3v1h-3zM20 10h4v1h-4zM3 11h1v1h-1zM5 11h1v1h-1zM8 11h2v1h-2zM11 11h2v1h-2zM17 11h4v1h-4zM2 12h1v1h-1zM4 12h1v1h-1zM7 12h5v1h-5zM14 12h1v1h-1zM16 12h1v1h-1zM20 12h2v1h-2zM2 13h1v1h-1zM4 13h1v1h-1zM7 13h2v1h-2zM15 13h1v1h-1zM17 13h2v1h-2zM22 13h1v1h-1zM24 13h1v1h-1zM0 14h1v1h-1zM3 14h2v1h-2zM7 14h2v1h-2zM10 14h5v1h-5zM18 14h5v1h-5zM2 15h1v1h-1zM8 15h1v1h-1zM12 15h1v1h-1zM14 15h2v1h-2zM20 15h1v1h-1zM22 15h1v1h-1zM0 16h2v1h-2zM3 16h2v1h-2zM6 16h1v1h-1zM9 16h1v1h-1zM11 16h3v1h-3zM15 16h6v1h-6zM23 16h2v1h-2zM12 17h2v1h-2zM15 17h2v1h-2zM19 17h6v1h-6zM0 18h7v1h-7zM9 18h1v1h-1zM11 18h1v1h-1zM13 18h1v1h-1zM15 18h1v1h-1zM17 18h2v1h-2zM20 18h1v1h-1zM22 18h1v1h-1zM0 19h1v1h-1zM6 19h1v1h-1zM8 19h3v1h-3zM12 19h1v1h-1zM14 19h4v1h-4zM19 19h1v1h-1zM21 19h1v1h-1zM23 19h1v1h-1zM0 20h1v1h-1zM2 20h3v1h-3zM6 20h1v1h-1zM9 20h2v1h-2zM12 20h1v1h-1zM14 20h3v1h-3zM21 20h2v1h-2zM24 20h1v1h-1zM0 21h1v1h-1zM2 21h3v1h-3zM6 21h1v1h-1zM8 21h1v1h-1zM10 21h3v1h-3zM17 21h1v1h-1zM20 21h5v1h-5zM0 22h1v1h-1zM2 22h3v1h-3zM6 22h1v1h-1zM8 22h1v1h-1zM12 22h1v1h-1zM14 22h1v1h-1zM16 22h2v1h-2zM19 22h1v1h-1zM22 22h3v1h-3zM0 23h1v1h-1zM6 23h1v1h-1zM8 23h1v1h-1zM11 23h1v1h-1zM13 23h1v1h-1zM17 23h1v1h-1zM21 23h1v1h-1zM23 23h2v1h-2zM0 24h7v1h-7zM10 24h3v1h-3zM14 24h1v1h-1zM17 24h7v1h-7z" fill="#111"/></svg><div class="nm">Tankkarte</div><svg class="av" viewBox="0 0 20 20"><rect width="20" height="20" fill="#f1661c"/><path d="M1.5 20 Q2 17.3 7 17 L13 17 Q18 17.3 18.5 20Z" fill="#10298a"/><rect x="8" y="14.5" width="4" height="3" fill="#e8b9a4"/><ellipse cx="10" cy="10.4" rx="5.4" ry="6.4" fill="#ecc3ae"/><path d="M3.6 11.5 Q2 1 10 1 Q18 1 16.4 11.5 Q16 5.6 10 5.4 Q4 5.6 3.6 11.5Z" fill="#d3ccd2"/><rect x="4.6" y="8.4" width="4.6" height="2.8" rx=".9" fill="#c9c4bc" stroke="#4a3d68" stroke-width=".8"/><rect x="10.8" y="8.4" width="4.6" height="2.8" rx=".9" fill="#c9c4bc" stroke="#4a3d68" stroke-width=".8"/><path d="M9.2 9.200000000000001H10.8" stroke="#4a3d68" stroke-width=".8"/><ellipse cx="10" cy="14" rx="1.5" ry=".9" fill="#d97a9e"/></svg><div class="as">Andrea Smith</div><div class="ex">120 €</div><div class="bd" style="left:526.8px;width:30.2px"><span>NEU</span></div><div class="bd" style="left:656.8px;width:53.2px"><span>VERTRÄGE</span></div><div class="btn" style="left:790.9px;background:#f7ece9"><svg style="position:absolute;left:2.05px;top:2.9px" viewBox="0 0 24 24" width="12.3" height="12.3"><g fill="none" stroke="#e8573a" stroke-width="2" stroke-linecap="round" stroke-linejoin="round"><path d="M7 7h-1a2 2 0 0 0 -2 2v9a2 2 0 0 0 2 2h9a2 2 0 0 0 2 -2v-1"/><path d="M20.385 6.585a2.1 2.1 0 0 0 -2.97 -2.97l-8.415 8.385v3h3l8.385 -8.415z"/><path d="M16 5l3 3"/></g></svg></div></div><div class="row" style="top:443.76px"><svg class="qr" viewBox="0 0 25 25" preserveAspectRatio="none"><path d="M0 0h7v1h-7zM8 0h1v1h-1zM10 0h2v1h-2zM15 0h2v1h-2zM18 0h7v1h-7zM0 1h1v1h-1zM6 1h1v1h-1zM8 1h7v1h-7zM16 1h1v1h-1zM18 1h1v1h-1zM24 1h1v1h-1zM0 2h1v1h-1zM2 2h3v1h-3zM6 2h1v1h-1zM9 2h1v1h-1zM13 2h2v1h-2zM18 2h1v1h-1zM20 2h3v1h-3zM24 2h1v1h-1zM0 3h1v1h-1zM2 3h3v1h-3zM6 3h1v1h-1zM8 3h5v1h-5zM14 3h3v1h-3zM18 3h1v1h-1zM20 3h3v1h-3zM24 3h1v1h-1zM0 4h1v1h-1zM2 4h3v1h-3zM6 4h1v1h-1zM9 4h2v1h-2zM14 4h3v1h-3zM18 4h1v1h-1zM20 4h3v1h-3zM24 4h1v1h-1zM0 5h1v1h-1zM6 5h1v1h-1zM8 5h1v1h-1zM10 5h1v1h-1zM14 5h1v1h-1zM18 5h1v1h-1zM24 5h1v1h-1zM0 6h7v1h-7zM8 6h5v1h-5zM18 6h7v1h-7zM9 7h1v1h-1zM13 7h2v1h-2zM16 7h1v1h-1zM0 8h8v1h-8zM10 8h2v1h-2zM13 8h2v1h-2zM16 8h1v1h-1zM18 8h1v1h-1zM20 8h1v1h-1zM1 9h2v1h-2zM4 9h2v1h-2zM7 9h1v1h-1zM12 9h6v1h-6zM20 9h2v1h-2zM2 10h2v1h-2zM6 10h1v1h-1zM10 10h5v1h-5zM16 10h1v1h-1zM18 10h1v1h-1zM20 10h1v1h-1zM22 10h1v1h-1zM24 10h1v1h-1zM3 11h3v1h-3zM8 11h2v1h-2zM14 11h4v1h-4zM20 11h1v1h-1zM22 11h1v1h-1zM24 11h1v1h-1zM0 12h1v1h-1zM8 12h1v1h-1zM10 12h3v1h-3zM14 12h1v1h-1zM16 12h1v1h-1zM22 12h3v1h-3zM5 13h2v1h-2zM8 13h1v1h-1zM11 13h1v1h-1zM13 13h1v1h-1zM15 13h1v1h-1zM22 13h1v1h-1zM0 14h5v1h-5zM6 14h2v1h-2zM10 14h4v1h-4zM15 14h1v1h-1zM17 14h2v1h-2zM20 14h1v1h-1zM22 14h3v1h-3zM0 15h2v1h-2zM3 15h5v1h-5zM10 15h1v1h-1zM14 15h3v1h-3zM18 15h2v1h-2zM21 15h2v1h-2zM24 15h1v1h-1zM1 16h2v1h-2zM4 16h1v1h-1zM6 16h1v1h-1zM8 16h3v1h-3zM14 16h1v1h-1zM16 16h1v1h-1zM18 16h3v1h-3zM11 17h1v1h-1zM14 17h1v1h-1zM18 17h1v1h-1zM22 17h2v1h-2zM0 18h7v1h-7zM9 18h1v1h-1zM13 18h1v1h-1zM17 18h1v1h-1zM21 18h2v1h-2zM0 19h1v1h-1zM6 19h1v1h-1zM9 19h3v1h-3zM13 19h1v1h-1zM15 19h1v1h-1zM18 19h1v1h-1zM24 19h1v1h-1zM0 20h1v1h-1zM2 20h3v1h-3zM6 20h1v1h-1zM10 20h2v1h-2zM13 20h2v1h-2zM17 20h3v1h-3zM21 20h1v1h-1zM23 20h2v1h-2zM0 21h1v1h-1zM2 21h3v1h-3zM6 21h1v1h-1zM9 21h1v1h-1zM15 21h1v1h-1zM17 21h1v1h-1zM21 21h1v1h-1zM23 21h2v1h-2zM0 22h1v1h-1zM2 22h3v1h-3zM6 22h1v1h-1zM8 22h4v1h-4zM15 22h3v1h-3zM19 22h1v1h-1zM21 22h3v1h-3zM0 23h1v1h-1zM6 23h1v1h-1zM9 23h1v1h-1zM12 23h2v1h-2zM15 23h1v1h-1zM19 23h3v1h-3zM23 23h1v1h-1zM0 24h7v1h-7zM10 24h2v1h-2zM15 24h1v1h-1zM17 24h2v1h-2zM21 24h2v1h-2zM24 24h1v1h-1z" fill="#111"/></svg><div class="nm">Fitnessstudio Vertrag</div><svg class="av" viewBox="0 0 20 20"><rect width="20" height="20" fill="#13268e"/><path d="M2.4 20 L2.8 8 Q3.2 0.8 10 0.8 Q16.8 0.8 17.2 8 L17.6 20Z" fill="#e4893b"/><path d="M5 20 Q5.5 17 10 17 Q14.5 17 15 20Z" fill="#3e8a34"/><ellipse cx="10" cy="10.4" rx="4.9" ry="6.2" fill="#f5dac8"/><path d="M5 9 Q5 2.6 10 2.8 Q15 2.6 15 9 Q14.5 6 11 6 L9.5 7 Q7 6.2 5 9Z" fill="#e58c3d"/><rect x="4.6" y="8.8" width="4.6" height="2.3" rx=".9" fill="none" stroke="#c9c0b8" stroke-width=".5"/><rect x="10.8" y="8.8" width="4.6" height="2.3" rx=".9" fill="none" stroke="#c9c0b8" stroke-width=".5"/><path d="M9.2 9.600000000000001H10.8" stroke="#c9c0b8" stroke-width=".5"/><ellipse cx="7.5" cy="10" rx=".8" ry=".5" fill="#6a9a78"/><ellipse cx="12.5" cy="10" rx=".8" ry=".5" fill="#6a9a78"/><ellipse cx="10" cy="13.8" rx="1.4" ry=".8" fill="#b0739e"/></svg><div class="as">Hannah Müller</div><div class="ex">20 €</div><div class="bd" style="left:526.8px;width:30.2px"><span>NEU</span></div><div class="bd" style="left:656.8px;width:53.2px"><span>VERTRÄGE</span></div><div class="btn" style="left:790.9px;background:#f7ece9"><svg style="position:absolute;left:2.05px;top:2.9px" viewBox="0 0 24 24" width="12.3" height="12.3"><g fill="none" stroke="#e8573a" stroke-width="2" stroke-linecap="round" stroke-linejoin="round"><path d="M7 7h-1a2 2 0 0 0 -2 2v9a2 2 0 0 0 2 2h9a2 2 0 0 0 2 -2v-1"/><path d="M20.385 6.585a2.1 2.1 0 0 0 -2.97 -2.97l-8.415 8.385v3h3l8.385 -8.415z"/><path d="M16 5l3 3"/></g></svg></div></div><div class="row" style="top:483.52px"><svg class="qr" viewBox="0 0 25 25" preserveAspectRatio="none"><path d="M0 0h7v1h-7zM9 0h1v1h-1zM13 0h3v1h-3zM18 0h7v1h-7zM0 1h1v1h-1zM6 1h1v1h-1zM8 1h1v1h-1zM14 1h2v1h-2zM18 1h1v1h-1zM24 1h1v1h-1zM0 2h1v1h-1zM2 2h3v1h-3zM6 2h1v1h-1zM8 2h2v1h-2zM14 2h2v1h-2zM18 2h1v1h-1zM20 2h3v1h-3zM24 2h1v1h-1zM0 3h1v1h-1zM2 3h3v1h-3zM6 3h1v1h-1zM11 3h6v1h-6zM18 3h1v1h-1zM20 3h3v1h-3zM24 3h1v1h-1zM0 4h1v1h-1zM2 4h3v1h-3zM6 4h1v1h-1zM8 4h1v1h-1zM10 4h1v1h-1zM12 4h1v1h-1zM14 4h1v1h-1zM18 4h1v1h-1zM20 4h3v1h-3zM24 4h1v1h-1zM0 5h1v1h-1zM6 5h1v1h-1zM8 5h2v1h-2zM14 5h1v1h-1zM18 5h1v1h-1zM24 5h1v1h-1zM0 6h7v1h-7zM9 6h1v1h-1zM11 6h3v1h-3zM15 6h2v1h-2zM18 6h7v1h-7zM8 7h6v1h-6zM16 7h1v1h-1zM0 8h5v1h-5zM6 8h1v1h-1zM8 8h1v1h-1zM13 8h1v1h-1zM16 8h1v1h-1zM18 8h3v1h-3zM22 8h2v1h-2zM1 9h1v1h-1zM4 9h3v1h-3zM8 9h1v1h-1zM10 9h1v1h-1zM14 9h1v1h-1zM17 9h4v1h-4zM22 9h1v1h-1zM0 10h2v1h-2zM4 10h1v1h-1zM7 10h1v1h-1zM9 10h2v1h-2zM12 10h1v1h-1zM14 10h1v1h-1zM16 10h1v1h-1zM18 10h1v1h-1zM20 10h1v1h-1zM22 10h1v1h-1zM24 10h1v1h-1zM1 11h1v1h-1zM3 11h2v1h-2zM9 11h2v1h-2zM14 11h8v1h-8zM24 11h1v1h-1zM1 12h3v1h-3zM5 12h1v1h-1zM7 12h1v1h-1zM9 12h2v1h-2zM14 12h1v1h-1zM16 12h1v1h-1zM18 12h1v1h-1zM22 12h2v1h-2zM0 13h4v1h-4zM5 13h1v1h-1zM7 13h2v1h-2zM10 13h1v1h-1zM14 13h2v1h-2zM17 13h1v1h-1zM19 13h2v1h-2zM1 14h5v1h-5zM7 14h1v1h-1zM10 14h2v1h-2zM14 14h3v1h-3zM18 14h2v1h-2zM22 14h1v1h-1zM24 14h1v1h-1zM0 15h2v1h-2zM3 15h1v1h-1zM6 15h3v1h-3zM12 15h2v1h-2zM16 15h2v1h-2zM19 15h3v1h-3zM23 15h1v1h-1zM0 16h2v1h-2zM3 16h2v1h-2zM7 16h3v1h-3zM11 16h1v1h-1zM13 16h1v1h-1zM16 16h4v1h-4zM22 16h1v1h-1zM9 17h4v1h-4zM16 17h2v1h-2zM21 17h2v1h-2zM0 18h7v1h-7zM11 18h1v1h-1zM13 18h4v1h-4zM21 18h1v1h-1zM23 18h2v1h-2zM0 19h1v1h-1zM6 19h1v1h-1zM9 19h3v1h-3zM14 19h1v1h-1zM16 19h1v1h-1zM18 19h1v1h-1zM21 19h3v1h-3zM0 20h1v1h-1zM2 20h3v1h-3zM6 20h1v1h-1zM9 20h1v1h-1zM11 20h5v1h-5zM18 20h1v1h-1zM21 20h3v1h-3zM0 21h1v1h-1zM2 21h3v1h-3zM6 21h1v1h-1zM8 21h1v1h-1zM10 21h1v1h-1zM12 21h2v1h-2zM16 21h1v1h-1zM19 21h3v1h-3zM23 21h2v1h-2zM0 22h1v1h-1zM2 22h3v1h-3zM6 22h1v1h-1zM8 22h2v1h-2zM12 22h4v1h-4zM19 22h1v1h-1zM24 22h1v1h-1zM0 23h1v1h-1zM6 23h1v1h-1zM9 23h2v1h-2zM12 23h1v1h-1zM14 23h1v1h-1zM16 23h1v1h-1zM20 23h2v1h-2zM23 23h2v1h-2zM0 24h7v1h-7zM9 24h1v1h-1zM12 24h2v1h-2zM15 24h1v1h-1zM17 24h1v1h-1zM20 24h3v1h-3z" fill="#111"/></svg><div class="nm">IT-Schulung</div><svg class="av" viewBox="0 0 20 20"><rect width="20" height="20" fill="#eef0fa"/><path d="M0.5 20 Q1 17.6 6 17.3 L10 18.5 L14 17.3 Q19 17.6 19.5 20Z" fill="#1b2a6b"/><path d="M7 17.3 L10 20 L13 17.3Z" fill="#fff"/><path d="M9.4 18.2H10.6L10.3 20H9.7Z" fill="#111"/><ellipse cx="10" cy="10.2" rx="5.8" ry="7" fill="#ebb48c"/><ellipse cx="4.3" cy="10.5" rx="1" ry="1.6" fill="#e3a97f"/><ellipse cx="15.7" cy="10.5" rx="1" ry="1.6" fill="#e3a97f"/><path d="M3.9 9.6 Q2.8 0.6 10 0.6 Q17.2 0.6 16.1 9.6 Q15.6 4.6 10 4.3 Q4.4 4.6 3.9 9.6Z" fill="#15151c"/><rect x="4.6" y="7.8" width="4.6" height="2.6" rx=".9" fill="#dfe9f5" stroke="#8a7a70" stroke-width=".55"/><rect x="10.8" y="7.8" width="4.6" height="2.6" rx=".9" fill="#dfe9f5" stroke="#8a7a70" stroke-width=".55"/><path d="M9.2 8.6H10.8" stroke="#8a7a70" stroke-width=".55"/><circle cx="7" cy="9.1" r=".75" fill="#5a86c8"/><circle cx="13" cy="9.1" r=".75" fill="#5a86c8"/><path d="M6.6 14.6 Q10 11.8 13.4 14.6 Q10 13.4 6.6 14.6Z" fill="#231710" stroke="#231710" stroke-width=".8"/></svg><div class="as">Simon Schmidt</div><div class="ex">100 €</div><div class="bd" style="left:526.8px;width:30.2px"><span>NEU</span></div><div class="bd" style="left:656.8px;width:54.8px"><span>SCHULUNG</span></div><div class="btn" style="left:790.9px;background:#f7ece9"><svg style="position:absolute;left:2.05px;top:2.9px" viewBox="0 0 24 24" width="12.3" height="12.3"><g fill="none" stroke="#e8573a" stroke-width="2" stroke-linecap="round" stroke-linejoin="round"><path d="M7 7h-1a2 2 0 0 0 -2 2v9a2 2 0 0 0 2 2h9a2 2 0 0 0 2 -2v-1"/><path d="M20.385 6.585a2.1 2.1 0 0 0 -2.97 -2.97l-8.415 8.385v3h3l8.385 -8.415z"/><path d="M16 5l3 3"/></g></svg></div></div><div class="row" style="top:523.28px"><svg class="qr" viewBox="0 0 25 25" preserveAspectRatio="none"><path d="M0 0h7v1h-7zM8 0h1v1h-1zM10 0h2v1h-2zM14 0h2v1h-2zM18 0h7v1h-7zM0 1h1v1h-1zM6 1h1v1h-1zM9 1h1v1h-1zM12 1h2v1h-2zM15 1h2v1h-2zM18 1h1v1h-1zM24 1h1v1h-1zM0 2h1v1h-1zM2 2h3v1h-3zM6 2h1v1h-1zM8 2h3v1h-3zM13 2h1v1h-1zM15 2h2v1h-2zM18 2h1v1h-1zM20 2h3v1h-3zM24 2h1v1h-1zM0 3h1v1h-1zM2 3h3v1h-3zM6 3h1v1h-1zM10 3h3v1h-3zM15 3h1v1h-1zM18 3h1v1h-1zM20 3h3v1h-3zM24 3h1v1h-1zM0 4h1v1h-1zM2 4h3v1h-3zM6 4h1v1h-1zM8 4h1v1h-1zM11 4h2v1h-2zM14 4h1v1h-1zM18 4h1v1h-1zM20 4h3v1h-3zM24 4h1v1h-1zM0 5h1v1h-1zM6 5h1v1h-1zM10 5h2v1h-2zM13 5h1v1h-1zM16 5h1v1h-1zM18 5h1v1h-1zM24 5h1v1h-1zM0 6h7v1h-7zM9 6h3v1h-3zM14 6h2v1h-2zM18 6h7v1h-7zM9 7h2v1h-2zM15 7h1v1h-1zM0 8h2v1h-2zM6 8h4v1h-4zM12 8h1v1h-1zM20 8h2v1h-2zM24 8h1v1h-1zM0 9h3v1h-3zM4 9h2v1h-2zM8 9h1v1h-1zM10 9h6v1h-6zM17 9h3v1h-3zM21 9h1v1h-1zM23 9h2v1h-2zM1 10h1v1h-1zM3 10h2v1h-2zM6 10h1v1h-1zM8 10h1v1h-1zM10 10h1v1h-1zM12 10h2v1h-2zM15 10h1v1h-1zM17 10h1v1h-1zM19 10h4v1h-4zM0 11h1v1h-1zM5 11h1v1h-1zM7 11h3v1h-3zM11 11h4v1h-4zM16 11h2v1h-2zM19 11h1v1h-1zM22 11h1v1h-1zM0 12h1v1h-1zM2 12h5v1h-5zM11 12h2v1h-2zM14 12h1v1h-1zM16 12h2v1h-2zM20 12h1v1h-1zM0 13h2v1h-2zM4 13h6v1h-6zM11 13h1v1h-1zM14 13h2v1h-2zM17 13h1v1h-1zM24 13h1v1h-1zM2 14h3v1h-3zM6 14h3v1h-3zM10 14h2v1h-2zM14 14h1v1h-1zM18 14h2v1h-2zM21 14h1v1h-1zM23 14h1v1h-1zM0 15h1v1h-1zM5 15h1v1h-1zM7 15h1v1h-1zM10 15h1v1h-1zM12 15h4v1h-4zM19 15h1v1h-1zM21 15h4v1h-4zM1 16h1v1h-1zM3 16h1v1h-1zM9 16h1v1h-1zM12 16h2v1h-2zM17 16h4v1h-4zM24 16h1v1h-1zM9 17h1v1h-1zM12 17h1v1h-1zM14 17h1v1h-1zM16 17h1v1h-1zM18 17h1v1h-1zM20 17h2v1h-2zM0 18h7v1h-7zM14 18h1v1h-1zM17 18h1v1h-1zM24 18h1v1h-1zM0 19h1v1h-1zM6 19h1v1h-1zM8 19h1v1h-1zM13 19h2v1h-2zM17 19h2v1h-2zM20 19h3v1h-3zM24 19h1v1h-1zM0 20h1v1h-1zM2 20h3v1h-3zM6 20h1v1h-1zM10 20h1v1h-1zM17 20h1v1h-1zM21 20h1v1h-1zM23 20h1v1h-1zM0 21h1v1h-1zM2 21h3v1h-3zM6 21h1v1h-1zM8 21h1v1h-1zM12 21h1v1h-1zM14 21h2v1h-2zM17 21h2v1h-2zM20 21h2v1h-2zM0 22h1v1h-1zM2 22h3v1h-3zM6 22h1v1h-1zM8 22h1v1h-1zM11 22h2v1h-2zM14 22h1v1h-1zM16 22h4v1h-4zM22 22h2v1h-2zM0 23h1v1h-1zM6 23h1v1h-1zM9 23h1v1h-1zM11 23h2v1h-2zM16 23h3v1h-3zM21 23h1v1h-1zM24 23h1v1h-1zM0 24h7v1h-7zM9 24h3v1h-3zM14 24h3v1h-3zM19 24h1v1h-1zM23 24h2v1h-2z" fill="#111"/></svg><div class="nm">Strommessgerät</div><svg class="av" viewBox="0 0 20 20"><rect width="20" height="20" fill="#a6c3e2"/><path d="M0.5 20 Q1.5 16.8 7 16.6 L13 16.6 Q18.5 16.8 19.5 20Z" fill="#4a4c54"/><rect x="8" y="14" width="4" height="5" fill="#8f5836"/><ellipse cx="10" cy="10" rx="5.8" ry="6.8" fill="#8f5836"/><ellipse cx="4.2" cy="10.4" rx="1" ry="1.6" fill="#8f5836"/><ellipse cx="15.8" cy="10.4" rx="1" ry="1.6" fill="#8f5836"/><path d="M3.9 9.4 Q2.6 0.4 10 0.4 Q17.4 0.4 16.1 9.4 Q15.6 4.4 10 4.1 Q4.4 4.4 3.9 9.4Z" fill="#141010"/><rect x="4.6" y="7.7" width="4.6" height="2.3" rx=".9" fill="#9aa6b0" stroke="#d9dde3" stroke-width=".5"/><rect x="10.8" y="7.7" width="4.6" height="2.3" rx=".9" fill="#9aa6b0" stroke="#d9dde3" stroke-width=".5"/><path d="M9.2 8.5H10.8" stroke="#d9dde3" stroke-width=".5"/><ellipse cx="10" cy="13.6" rx="1.3" ry=".6" fill="#e8e2dc"/></svg><div class="as">John Carter</div><div class="ex">1200 €</div><div class="bd" style="left:526.8px;width:46px"><span>WIE NEU</span></div><div class="bd" style="left:656.8px;width:62.8px"><span>MESSGERÄTE</span></div><div class="btn" style="left:790.9px;background:#f7ece9"><svg style="position:absolute;left:2.05px;top:2.9px" viewBox="0 0 24 24" width="12.3" height="12.3"><g fill="none" stroke="#e8573a" stroke-width="2" stroke-linecap="round" stroke-linejoin="round"><path d="M7 7h-1a2 2 0 0 0 -2 2v9a2 2 0 0 0 2 2h9a2 2 0 0 0 2 -2v-1"/><path d="M20.385 6.585a2.1 2.1 0 0 0 -2.97 -2.97l-8.415 8.385v3h3l8.385 -8.415z"/><path d="M16 5l3 3"/></g></svg></div></div><div class="row" style="top:563.04px"><svg class="qr" viewBox="0 0 25 25" preserveAspectRatio="none"><path d="M0 0h7v1h-7zM9 0h2v1h-2zM12 0h1v1h-1zM18 0h7v1h-7zM0 1h1v1h-1zM6 1h1v1h-1zM8 1h2v1h-2zM18 1h1v1h-1zM24 1h1v1h-1zM0 2h1v1h-1zM2 2h3v1h-3zM6 2h1v1h-1zM9 2h1v1h-1zM11 2h1v1h-1zM15 2h2v1h-2zM18 2h1v1h-1zM20 2h3v1h-3zM24 2h1v1h-1zM0 3h1v1h-1zM2 3h3v1h-3zM6 3h1v1h-1zM11 3h3v1h-3zM15 3h1v1h-1zM18 3h1v1h-1zM20 3h3v1h-3zM24 3h1v1h-1zM0 4h1v1h-1zM2 4h3v1h-3zM6 4h1v1h-1zM8 4h3v1h-3zM12 4h2v1h-2zM18 4h1v1h-1zM20 4h3v1h-3zM24 4h1v1h-1zM0 5h1v1h-1zM6 5h1v1h-1zM8 5h6v1h-6zM18 5h1v1h-1zM24 5h1v1h-1zM0 6h7v1h-7zM8 6h1v1h-1zM12 6h1v1h-1zM14 6h3v1h-3zM18 6h7v1h-7zM8 7h1v1h-1zM13 7h1v1h-1zM15 7h1v1h-1zM2 8h1v1h-1zM7 8h1v1h-1zM10 8h1v1h-1zM12 8h1v1h-1zM14 8h1v1h-1zM21 8h3v1h-3zM0 9h1v1h-1zM2 9h2v1h-2zM6 9h1v1h-1zM9 9h1v1h-1zM17 9h2v1h-2zM23 9h2v1h-2zM3 10h1v1h-1zM6 10h3v1h-3zM11 10h1v1h-1zM13 10h1v1h-1zM15 10h1v1h-1zM18 10h2v1h-2zM23 10h1v1h-1zM0 11h2v1h-2zM3 11h1v1h-1zM6 11h2v1h-2zM9 11h2v1h-2zM13 11h2v1h-2zM16 11h2v1h-2zM21 11h2v1h-2zM1 12h1v1h-1zM3 12h6v1h-6zM10 12h6v1h-6zM17 12h1v1h-1zM20 12h2v1h-2zM0 13h2v1h-2zM4 13h3v1h-3zM8 13h2v1h-2zM11 13h4v1h-4zM16 13h6v1h-6zM24 13h1v1h-1zM0 14h4v1h-4zM5 14h4v1h-4zM14 14h1v1h-1zM21 14h1v1h-1zM1 15h1v1h-1zM3 15h1v1h-1zM5 15h1v1h-1zM9 15h3v1h-3zM13 15h1v1h-1zM15 15h1v1h-1zM17 15h3v1h-3zM21 15h2v1h-2zM24 15h1v1h-1zM0 16h1v1h-1zM2 16h1v1h-1zM6 16h3v1h-3zM10 16h1v1h-1zM14 16h3v1h-3zM18 16h2v1h-2zM23 16h2v1h-2zM8 17h4v1h-4zM14 17h1v1h-1zM16 17h3v1h-3zM20 17h1v1h-1zM22 17h1v1h-1zM24 17h1v1h-1zM0 18h7v1h-7zM9 18h1v1h-1zM13 18h3v1h-3zM18 18h2v1h-2zM21 18h2v1h-2zM24 18h1v1h-1zM0 19h1v1h-1zM6 19h1v1h-1zM11 19h1v1h-1zM14 19h5v1h-5zM20 19h2v1h-2zM0 20h1v1h-1zM2 20h3v1h-3zM6 20h1v1h-1zM8 20h1v1h-1zM12 20h1v1h-1zM14 20h1v1h-1zM17 20h3v1h-3zM21 20h1v1h-1zM24 20h1v1h-1zM0 21h1v1h-1zM2 21h3v1h-3zM6 21h1v1h-1zM8 21h1v1h-1zM10 21h1v1h-1zM12 21h2v1h-2zM18 21h4v1h-4zM23 21h1v1h-1zM0 22h1v1h-1zM2 22h3v1h-3zM6 22h1v1h-1zM12 22h4v1h-4zM17 22h8v1h-8zM0 23h1v1h-1zM6 23h1v1h-1zM8 23h1v1h-1zM10 23h9v1h-9zM20 23h1v1h-1zM24 23h1v1h-1zM0 24h7v1h-7zM10 24h4v1h-4zM18 24h1v1h-1zM20 24h3v1h-3zM24 24h1v1h-1z" fill="#111"/></svg><div class="nm">Gabelstapler</div><svg class="av" viewBox="0 0 20 20"><rect width="20" height="20" fill="#f1661c"/><path d="M1.5 20 Q2 17.3 7 17 L13 17 Q18 17.3 18.5 20Z" fill="#10298a"/><rect x="8" y="14.5" width="4" height="3" fill="#e8b9a4"/><ellipse cx="10" cy="10.4" rx="5.4" ry="6.4" fill="#ecc3ae"/><path d="M3.6 11.5 Q2 1 10 1 Q18 1 16.4 11.5 Q16 5.6 10 5.4 Q4 5.6 3.6 11.5Z" fill="#d3ccd2"/><rect x="4.6" y="8.4" width="4.6" height="2.8" rx=".9" fill="#c9c4bc" stroke="#4a3d68" stroke-width=".8"/><rect x="10.8" y="8.4" width="4.6" height="2.8" rx=".9" fill="#c9c4bc" stroke="#4a3d68" stroke-width=".8"/><path d="M9.2 9.200000000000001H10.8" stroke="#4a3d68" stroke-width=".8"/><ellipse cx="10" cy="14" rx="1.5" ry=".9" fill="#d97a9e"/></svg><div class="as">Andrea Smith</div><div class="ex">3500 €</div><div class="bd" style="left:526.8px;width:30.2px"><span>NEU</span></div><div class="bd" style="left:656.8px;width:38px"><span>LAGER</span></div><div class="btn" style="left:790.9px;background:#f7ece9"><svg style="position:absolute;left:2.05px;top:2.9px" viewBox="0 0 24 24" width="12.3" height="12.3"><g fill="none" stroke="#e8573a" stroke-width="2" stroke-linecap="round" stroke-linejoin="round"><path d="M7 7h-1a2 2 0 0 0 -2 2v9a2 2 0 0 0 2 2h9a2 2 0 0 0 2 -2v-1"/><path d="M20.385 6.585a2.1 2.1 0 0 0 -2.97 -2.97l-8.415 8.385v3h3l8.385 -8.415z"/><path d="M16 5l3 3"/></g></svg></div></div>
  <div class="a" style="left:0;top:575px;width:1058px;height:25px;background:radial-gradient(ellipse 480px 22px at 530px 25px, rgba(0,0,0,.13), rgba(0,0,0,0))"></div>
</div>
<div class="frame"></div>
</body></html>
